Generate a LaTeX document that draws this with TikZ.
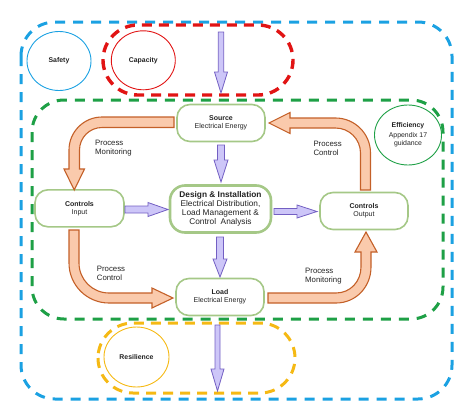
\documentclass[tikz,border=0pt]{standalone}
\usepackage{fontspec}
\setmainfont{Liberation Sans}
\usetikzlibrary{shapes.geometric}
\definecolor{cblue}{RGB}{27,161,226}
\definecolor{cgreen}{RGB}{30,160,70}
\definecolor{cred}{RGB}{225,20,20}
\definecolor{cyellow}{RGB}{245,185,20}
\definecolor{nodegreen}{RGB}{165,200,135}
\definecolor{orfill}{RGB}{250,202,172}
\definecolor{ordraw}{RGB}{196,96,40}
\definecolor{pufill}{RGB}{205,198,248}
\definecolor{pudraw}{RGB}{115,95,195}
\definecolor{txt}{RGB}{35,35,35}
\begin{document}
\begin{tikzpicture}[x=1pt,y=-1pt,
  box/.style={draw=nodegreen, line width=1.6pt, fill=white, rounded corners=13pt,
    minimum width=88pt, minimum height=37pt, align=center, text=txt, inner sep=0pt,
    font=\fontsize{7}{8}\selectfont},
  bigbox/.style={box, line width=2.6pt, rounded corners=15pt, minimum width=101pt,
    minimum height=47pt, font=\fontsize{8.3}{8.8}\selectfont},
  ring/.style={ellipse, draw, line width=0.9pt, minimum width=64pt, minimum height=59pt,
    inner sep=0pt, align=center, text=txt, font=\fontsize{6.9}{8.2}\selectfont},
  zone/.style={dash pattern=on 10pt off 8pt, line width=3pt},
  orarrow/.style={fill=orfill, draw=ordraw, line width=1.1pt, line join=miter},
  puarrow/.style={fill=pufill, draw=pudraw, line width=0.8pt},
  lbl/.style={anchor=west, align=left, inner sep=0pt, text=txt,
    font=\fontsize{7.8}{9}\selectfont}]
\useasboundingbox (0,0) rectangle (474,418);
% containers
\draw[zone, cblue, rounded corners=34pt] (21,22) rectangle (452,399);
\draw[zone, cred, line width=3.4pt, dash pattern=on 10pt off 7pt, rounded corners=35pt] (103,25) rectangle (293,95);
\draw[zone, cyellow, dash pattern=on 10pt off 7pt, rounded corners=35pt] (98,323) rectangle (295,393);
\draw[zone, cgreen, rounded corners=32pt] (32,100) rectangle (443,319);
% circles
\node[ring, draw=cblue] (safety) at (59,61) {\textbf{Safety}};
\node[ring, draw=cred] (capacity) at (143.3,60.3) {\textbf{Capacity}};
\node[ring, draw=cgreen, minimum width=67pt, minimum height=60pt] (eff) at (408,135) {\textbf{Efficiency}\\[2pt]Appendix 17\\guidance};
\node[ring, draw=cyellow, minimum width=65pt, minimum height=60pt] (res) at (136.5,357) {\textbf{Resilience}};
% nodes
\node[box] (src) at (221,123) {\textbf{Source}\\Electrical Energy};
\node[bigbox] (des) at (220.5,209) {\textbf{Design \& Installation}\\Electrical Distribution,\\Load Management \&\\Control\ \ Analysis};
\node[box, minimum width=89pt] (cin) at (79.5,208.3) {\textbf{Controls}\\Input};
\node[box] (cout) at (364,211) {\textbf{Controls}\\Output};
\node[box] (load) at (220,297) {\textbf{Load}\\Electrical Energy};
% purple block arrows
\draw[puarrow] (218.3,32) -- (223.7,32) -- (223.7,72) -- (227.5,72) -- (221,93) -- (214.5,72) -- (218.3,72) -- cycle;
\draw[puarrow] (215,325) -- (220,325) -- (220,369) -- (224,369) -- (217.5,391) -- (211,369) -- (215,369) -- cycle;
\draw[puarrow] (217.5,145) -- (224.5,145) -- (224.5,160) -- (228,160) -- (221,182) -- (214,160) -- (217.5,160) -- cycle;
\draw[puarrow] (216.5,237) -- (223.5,237) -- (223.5,259) -- (227,259) -- (220,277) -- (213,259) -- (216.5,259) -- cycle;
\draw[puarrow] (125,206) -- (148,206) -- (148,202.5) -- (168,209.5) -- (148,216.5) -- (148,213) -- (125,213) -- cycle;
\draw[puarrow] (274,208.5) -- (297,208.5) -- (297,205) -- (317,211.5) -- (297,218) -- (297,214.5) -- (274,214.5) -- cycle;
% orange curved arrows
\draw[orarrow] (174,117) -- (102,117) .. controls (83.8,117) and (69,131.8) .. (69,150) -- (69,169) -- (64,169) -- (74.25,190) -- (84.5,169) -- (79.5,169) -- (79.5,150) .. controls (79.5,137.6) and (89.6,127.5) .. (102,127.5) -- (174,127.5) -- cycle;
\draw[orarrow] (360.5,190) -- (360.5,153) .. controls (360.5,139.2) and (349.3,128) .. (335.5,128) -- (290,128) -- (290,133.5) -- (269,123) -- (290,112.5) -- (290,118) -- (335.5,118) .. controls (354.8,118) and (370.5,133.7) .. (370.5,153) -- (370.5,190) -- cycle;
\draw[orarrow] (69,230) -- (69,263) .. controls (69,285.1) and (86.9,303) .. (109,303) -- (152,303) -- (152,308) -- (173,298) -- (152,288) -- (152,293) -- (109,293) .. controls (92.4,293) and (79,279.6) .. (79,263) -- (79,230) -- cycle;
\draw[orarrow] (268,293) -- (336,293) .. controls (350.4,293) and (361,281.4) .. (361,267) -- (361,252) -- (355,252) -- (366,232) -- (377,252) -- (371,252) -- (371,267) .. controls (371,286.9) and (355.9,303) .. (336,303) -- (268,303) -- cycle;
% labels
\node[lbl] (l1) at (95,147.8) {Process\\Monitoring};
\node[lbl] (l2) at (313.3,148.8) {Process\\Control};
\node[lbl] (l3) at (96.7,273.6) {Process\\Control};
\node[lbl] (l4) at (305,276.2) {Process\\Monitoring};
\end{tikzpicture}
\end{document}
